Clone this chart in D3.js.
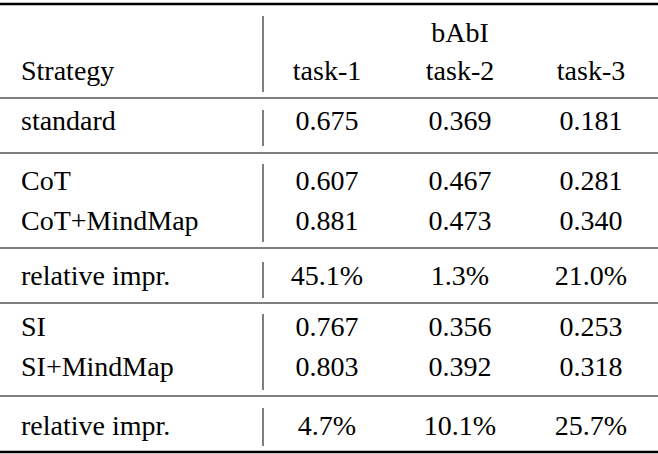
<!DOCTYPE html>
<html><head><meta charset="utf-8">
<script src="https://cdn.jsdelivr.net/npm/d3@7"></script>
<style>body{margin:0;background:#fff} text{font-family:"Liberation Serif","Times New Roman",Times,"DejaVu Serif",serif;}</style></head>
<body><svg id="c" width="658" height="454"></svg>
<script>
const columns = ["task-1","task-2","task-3"];
const groupLabel = "bAbI";
const strategies = ["standard","CoT","CoT+MindMap","relative impr.","SI","SI+MindMap","relative impr."];
const task1 = ["0.675","0.607","0.881","45.1%","0.767","0.803","4.7%"];
const task2 = ["0.369","0.467","0.473","1.3%","0.356","0.392","10.1%"];
const task3 = ["0.181","0.281","0.340","21.0%","0.253","0.318","25.7%"];

const svg = d3.select("#c");
const fs = 28;
const x = d3.scaleOrdinal().domain(columns).range([327,460,591]);
const rowY = [130,190,230,285,336,376,435];
const hlines = [{y:4,w:2.5},{y:98,w:1.2},{y:153,w:1.2},{y:248,w:1.2},{y:303,w:1.2},{y:396,w:1.2},{y:452,w:2.5}];
const vsegs = [[16,92],[110,146],[164,242],[262,298],[314,390],[408,446]];

svg.selectAll("line.h").data(hlines).join("line")
  .attr("x1",0).attr("x2",658).attr("y1",d=>d.y).attr("y2",d=>d.y)
  .attr("stroke","#000").attr("stroke-width",d=>d.w);
svg.selectAll("line.v").data(vsegs).join("line")
  .attr("x1",263).attr("x2",263).attr("y1",d=>d[0]).attr("y2",d=>d[1])
  .attr("stroke","#000").attr("stroke-width",1);

const t = (s,xx,yy,anchor)=>svg.append("text").text(s).attr("x",xx).attr("y",yy)
  .attr("text-anchor",anchor).attr("font-size",fs).attr("fill","#000");

t(groupLabel, x("task-2"), 42, "middle");
t("Strategy", 21, 80, "start");
columns.forEach(c=>t(c, x(c), 80, "middle"));
strategies.forEach((s,i)=>{
  t(s, 21, rowY[i], "start");
  [task1,task2,task3].forEach((arr,j)=>t(arr[i], x(columns[j]), rowY[i], "middle"));
});
</script></body></html>
